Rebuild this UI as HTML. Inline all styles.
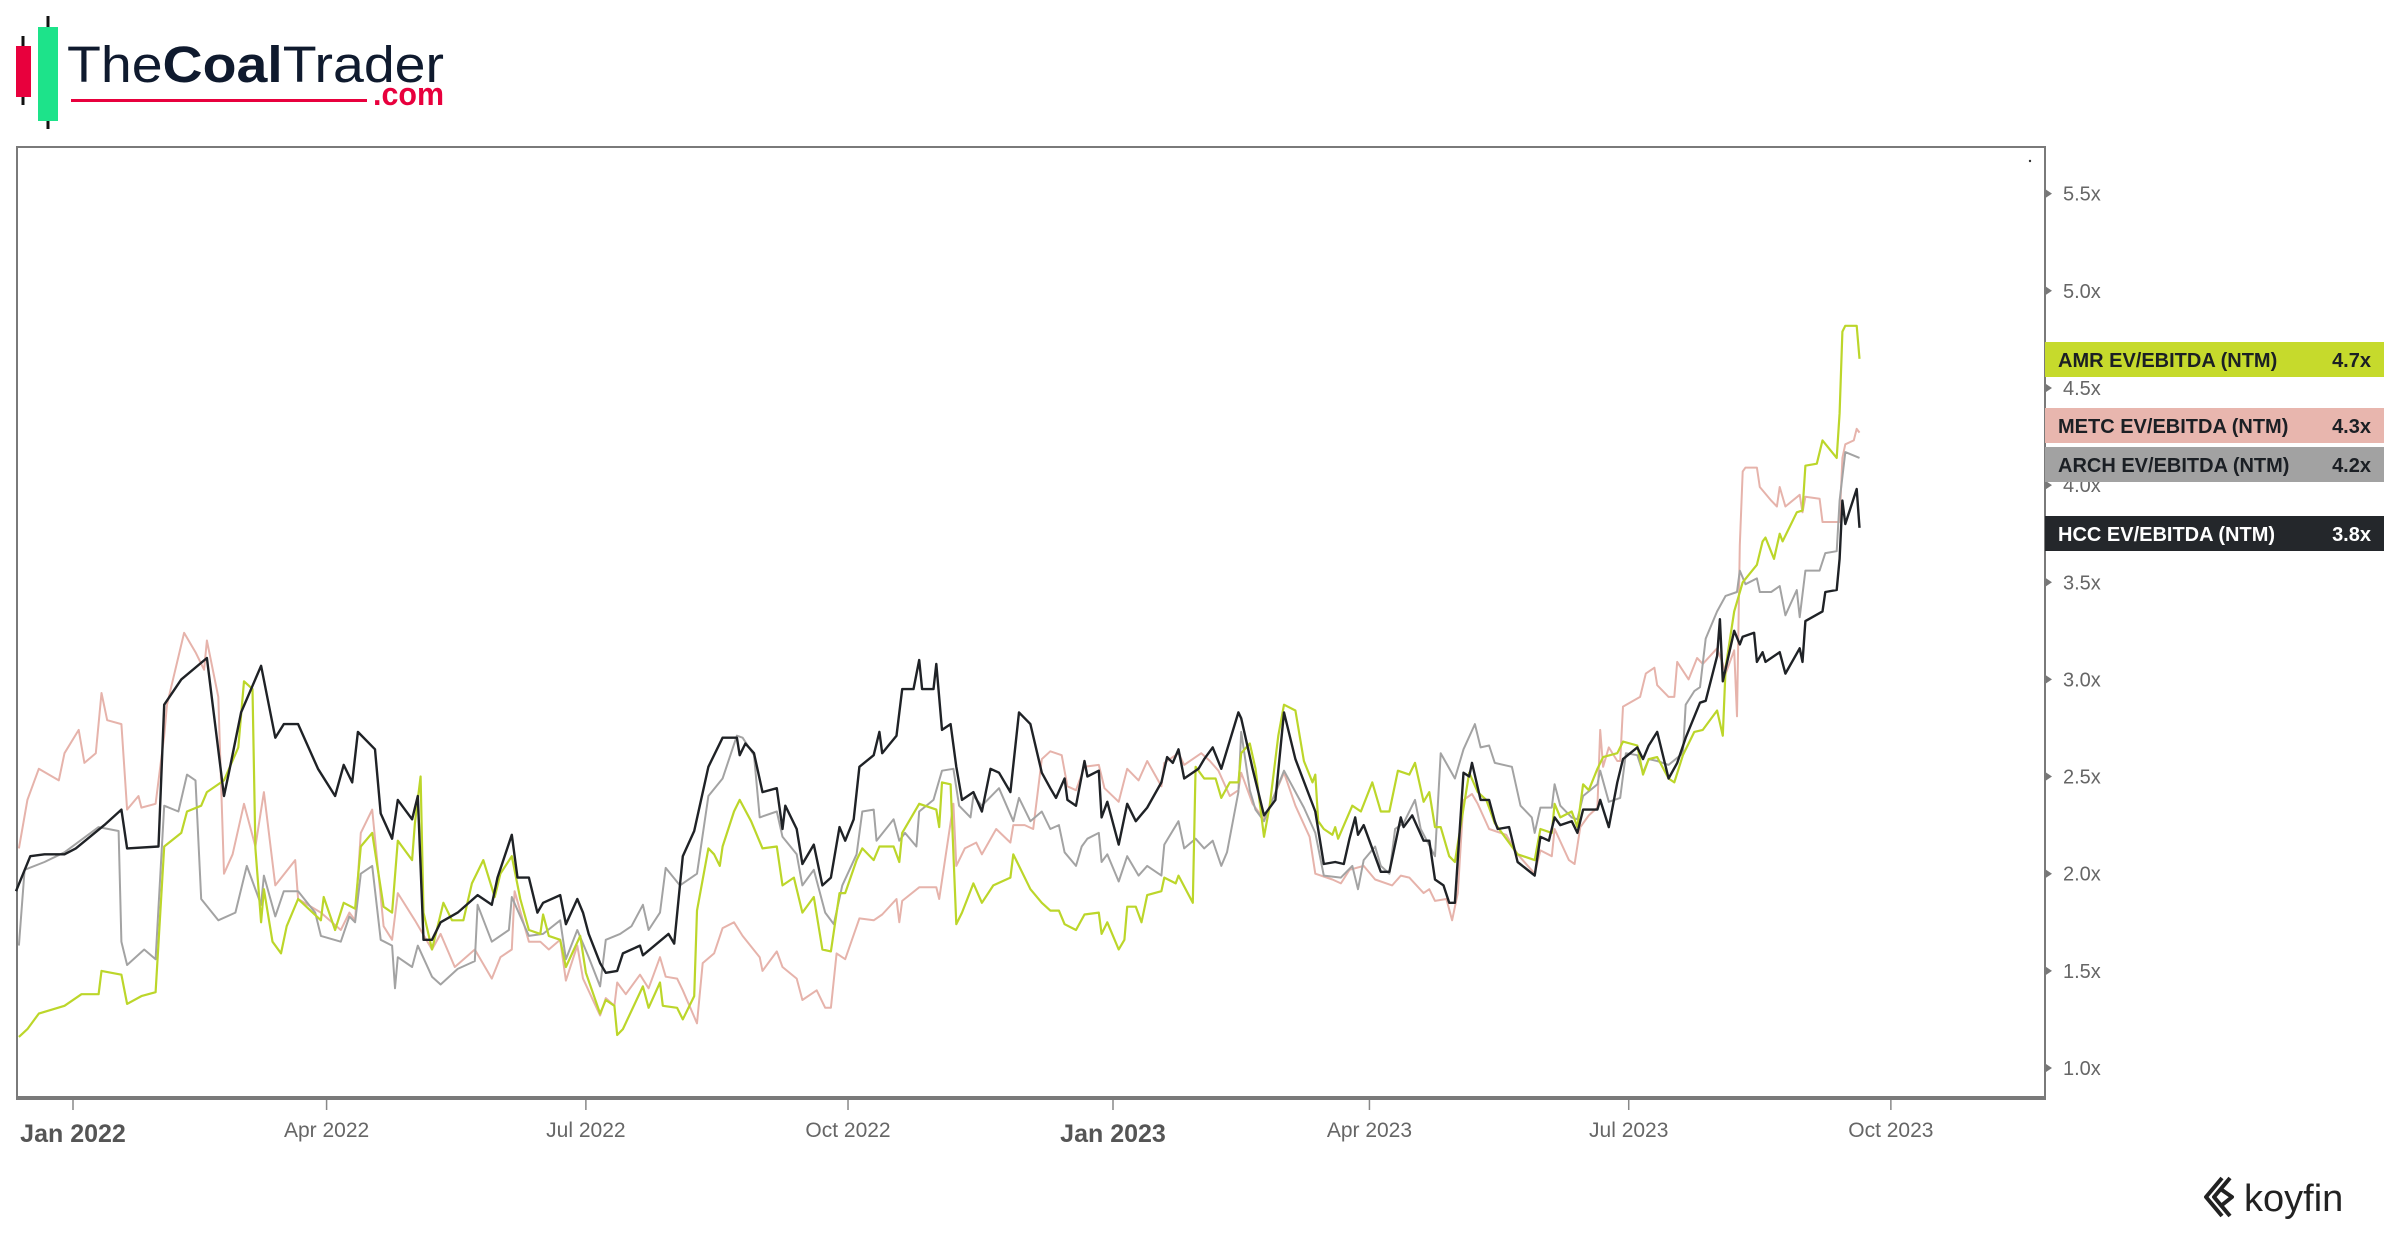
<!DOCTYPE html>
<html><head><meta charset="utf-8"><title>Coal EV/EBITDA</title>
<style>
html,body{margin:0;padding:0;background:#fff;}
body{width:2400px;height:1240px;overflow:hidden;font-family:"Liberation Sans",Arial,sans-serif;}
svg text{font-family:"Liberation Sans",Arial,sans-serif;}
</style></head>
<body>
<svg id="chart" width="2400" height="1240" viewBox="0 0 2400 1240" xmlns="http://www.w3.org/2000/svg">
  <g>
    <line x1="23" y1="36" x2="23" y2="105" stroke="#111" stroke-width="3"/>
    <rect x="16" y="46" width="15" height="51" fill="#e8003d"/>
    <line x1="48" y1="16" x2="48" y2="129" stroke="#111" stroke-width="3"/>
    <rect x="38" y="27" width="20" height="94" fill="#1de38a"/>
    <text x="67" y="82" font-size="51" fill="#0f1a2e" textLength="377" lengthAdjust="spacingAndGlyphs"><tspan>The</tspan><tspan font-weight="bold">Coal</tspan><tspan>Trader</tspan></text>
    <rect x="71" y="99" width="296" height="3" fill="#e8003d"/>
    <text x="373" y="105" font-size="32" font-weight="bold" fill="#e8003d" textLength="71" lengthAdjust="spacingAndGlyphs">.com</text>
  </g>
  <rect x="17" y="147" width="2028" height="951" fill="none" stroke="#7a7a7a" stroke-width="2"/>
  <line x1="16" y1="1098" x2="2046" y2="1098" stroke="#7a7a7a" stroke-width="4"/>
  <circle cx="2030" cy="161" r="1.2" fill="#333"/>
  <g id="yaxis"></g>
  <g id="xaxis"></g>
  <g id="series"></g>
  <g id="legend"></g>
  <g>
    <path d="M2222 1178 L2206 1197 L2222 1216 M2230 1178 L2214 1197 L2230 1216 M2222 1190 L2232 1197 L2222 1205" fill="none" stroke="#222" stroke-width="4" stroke-linejoin="round"/>
    <text x="2244" y="1211" font-size="38" fill="#222">koyfin</text>
  </g>
</svg>
<script>
// ---- data (days since 2022-01-01, EV/EBITDA multiples) ----
const yTicks = [1.0, 1.5, 2.0, 2.5, 3.0, 3.5, 4.0, 4.5, 5.0, 5.5];
const xTickDays = [0, 89, 180, 272, 365, 455, 546, 638];
const xTickLabels = ["Jan 2022","Apr 2022","Jul 2022","Oct 2022","Jan 2023","Apr 2023","Jul 2023","Oct 2023"];
const seriesNames = ["METC EV/EBITDA (NTM)","ARCH EV/EBITDA (NTM)","AMR EV/EBITDA (NTM)","HCC EV/EBITDA (NTM)"];
const lastValues = [4.3, 4.2, 4.7, 3.8];

const hccDays = [-20,-15,-10,-3,1,11,17,19,30,32,38,47,53,55,59,66,71,74,79,86,92,95,98,100,106,108,112,114,119,121,123,126,129,135,142,147,149,154,156,160,163,165,171,173,177,179,181,185,187,191,193,199,200,209,211,214,218,223,228,233,234,236,239,242,247,249,250,254,256,260,263,266,269,271,274,276,281,283,284,289,291,295,297,298,302,303,305,308,310,312,316,319,322,325,329,332,336,340,343,345,348,349,352,355,356,360,361,363,367,370,373,377,382,384,386,388,390,395,397,400,403,409,410,414,418,422,425,429,436,439,443,446,448,450,451,453,459,462,466,467,470,474,476,478,481,483,485,488,490,491,494,497,499,500,504,507,513,515,518,520,522,526,528,530,535,536,539,542,544,549,551,553,556,560,563,566,571,573,577,578,579,583,585,586,590,591,593,594,599,601,606,607,608,614,615,619,620,621,622,626,627];
const hccVals = [1.91,2.09,2.10,2.10,2.13,2.25,2.33,2.13,2.14,2.87,3.00,3.11,2.40,2.54,2.83,3.07,2.70,2.77,2.77,2.54,2.40,2.56,2.47,2.73,2.64,2.31,2.18,2.38,2.28,2.40,1.66,1.66,1.75,1.80,1.89,1.84,1.98,2.20,1.98,1.98,1.80,1.85,1.89,1.74,1.87,1.80,1.69,1.54,1.49,1.50,1.59,1.63,1.58,1.69,1.64,2.09,2.22,2.55,2.70,2.70,2.61,2.67,2.62,2.42,2.44,2.23,2.35,2.23,2.05,2.15,1.94,1.98,2.24,2.17,2.28,2.55,2.61,2.73,2.62,2.71,2.95,2.95,3.10,2.95,2.95,3.08,2.74,2.77,2.55,2.38,2.42,2.32,2.54,2.52,2.42,2.83,2.77,2.52,2.44,2.39,2.49,2.38,2.35,2.58,2.50,2.53,2.29,2.37,2.15,2.36,2.27,2.34,2.47,2.60,2.57,2.64,2.49,2.54,2.59,2.65,2.54,2.83,2.80,2.54,2.30,2.38,2.83,2.59,2.32,2.05,2.06,2.05,2.18,2.29,2.20,2.25,2.01,2.01,2.29,2.24,2.30,2.17,2.17,1.97,1.94,1.85,1.85,2.52,2.50,2.57,2.38,2.38,2.27,2.23,2.24,2.06,1.99,2.19,2.17,2.29,2.25,2.27,2.21,2.33,2.33,2.38,2.24,2.47,2.59,2.65,2.59,2.66,2.73,2.49,2.57,2.70,2.88,2.89,3.12,3.31,2.99,3.25,3.18,3.22,3.24,3.09,3.14,3.09,3.14,3.03,3.16,3.09,3.30,3.35,3.45,3.46,3.62,3.92,3.80,3.98,3.78];

const archDays = [-19,-17,-10,-3,9,16,17,19,25,29,32,37,40,43,45,51,57,61,66,67,71,74,79,85,87,94,97,99,101,105,108,112,113,114,119,121,126,129,135,141,142,147,153,154,160,165,171,173,177,181,185,187,192,196,200,202,206,208,213,219,223,228,233,235,239,241,247,249,254,256,260,264,267,270,275,277,281,282,288,290,292,296,297,302,305,309,311,315,316,319,325,330,332,336,340,343,346,348,352,354,356,360,361,363,367,370,374,377,382,383,388,390,394,397,400,403,405,409,410,413,415,418,425,432,436,439,445,449,451,453,457,459,462,464,467,471,473,478,480,485,488,492,494,497,499,505,508,512,513,515,519,520,522,526,528,530,535,536,539,543,545,549,551,553,556,560,565,566,569,571,573,577,580,584,585,587,591,592,596,599,601,605,606,608,613,615,619,620,622,627];
const archVals = [1.63,2.02,2.06,2.11,2.24,2.22,1.65,1.53,1.61,1.56,2.35,2.32,2.51,2.48,1.87,1.76,1.80,2.04,1.84,1.99,1.78,1.91,1.91,1.80,1.68,1.65,1.78,1.75,2.00,2.04,1.66,1.63,1.41,1.57,1.52,1.63,1.47,1.43,1.51,1.55,1.84,1.65,1.71,1.88,1.68,1.69,1.76,1.56,1.71,1.57,1.42,1.66,1.69,1.73,1.84,1.71,1.80,2.03,1.94,2.00,2.40,2.49,2.71,2.70,2.61,2.29,2.32,2.19,2.10,1.94,2.02,1.80,1.74,1.94,2.10,2.32,2.33,2.17,2.28,2.17,2.21,2.14,2.32,2.38,2.53,2.54,2.35,2.29,2.40,2.35,2.44,2.27,2.39,2.27,2.32,2.23,2.25,2.11,2.04,2.14,2.18,2.21,2.06,2.10,1.96,2.09,1.99,2.04,1.99,2.15,2.27,2.13,2.18,2.13,2.17,2.04,2.11,2.42,2.73,2.43,2.33,2.27,2.53,2.34,2.21,1.99,1.98,2.04,1.92,2.07,2.14,2.04,2.00,2.23,2.26,2.38,2.23,2.09,2.62,2.49,2.64,2.77,2.65,2.66,2.57,2.55,2.35,2.29,2.21,2.34,2.34,2.46,2.35,2.29,2.28,2.40,2.46,2.53,2.37,2.39,2.62,2.61,2.52,2.59,2.58,2.56,2.62,2.87,2.94,2.96,3.21,3.35,3.43,3.45,3.56,3.49,3.52,3.45,3.45,3.48,3.33,3.46,3.32,3.56,3.56,3.65,3.66,3.92,4.17,4.14];

const metcDays = [-19,-16,-12,-5,-3,2,4,8,10,12,17,19,23,24,29,32,33,39,43,46,47,51,53,56,60,64,67,71,78,79,87,94,97,99,101,105,109,112,114,120,126,129,134,141,147,150,154,155,160,164,167,171,173,177,179,185,187,190,191,194,199,202,206,208,212,214,219,221,225,228,232,235,241,242,247,249,254,256,261,264,266,268,271,276,281,284,289,290,291,297,303,304,309,310,313,317,319,324,329,330,334,337,340,343,347,349,352,355,360,362,367,370,374,377,382,383,388,390,396,399,402,406,409,410,414,418,425,429,434,436,442,445,448,453,457,463,466,469,474,476,478,482,484,486,488,491,493,497,503,507,513,515,519,520,525,527,529,532,535,536,537,539,542,543,544,550,552,555,556,560,562,563,567,570,572,577,579,580,583,584,585,586,587,591,592,596,598,599,601,606,607,608,613,614,620,621,622,625,626,627];
const metcVals = [2.13,2.38,2.54,2.48,2.62,2.74,2.57,2.62,2.93,2.79,2.77,2.33,2.40,2.34,2.36,2.71,2.87,3.24,3.14,3.05,3.20,2.91,2.00,2.10,2.36,2.14,2.42,1.94,2.07,1.87,1.80,1.71,1.80,1.76,2.21,2.33,1.73,1.66,1.90,1.76,1.61,1.69,1.52,1.61,1.46,1.57,1.61,1.91,1.65,1.65,1.61,1.66,1.45,1.63,1.46,1.27,1.36,1.32,1.44,1.38,1.48,1.41,1.57,1.47,1.46,1.40,1.23,1.54,1.59,1.72,1.75,1.68,1.57,1.50,1.60,1.52,1.46,1.35,1.40,1.31,1.31,1.59,1.56,1.77,1.76,1.79,1.87,1.75,1.86,1.93,1.93,1.87,2.36,2.04,2.13,2.16,2.10,2.23,2.16,2.25,2.25,2.23,2.59,2.63,2.61,2.45,2.43,2.55,2.56,2.44,2.37,2.54,2.48,2.58,2.45,2.57,2.62,2.56,2.62,2.58,2.53,2.40,2.43,2.52,2.36,2.28,2.52,2.35,2.19,2.00,1.97,1.95,2.02,2.04,1.97,1.94,1.99,1.98,1.90,1.92,1.86,1.87,1.76,1.90,2.38,2.41,2.36,2.23,2.20,2.10,2.00,2.12,2.09,2.23,2.07,2.05,2.24,2.30,2.34,2.74,2.55,2.65,2.58,2.58,2.86,2.91,3.03,3.06,2.97,2.91,2.91,3.09,3.00,3.11,3.08,3.16,3.08,3.03,3.15,2.81,3.69,4.07,4.09,4.09,3.99,3.92,3.89,3.99,3.89,3.95,3.86,3.94,3.93,3.81,3.81,4.14,4.21,4.23,4.29,4.27];

const amrDays = [-19,-16,-12,-3,3,9,10,17,19,24,29,32,38,40,45,47,53,58,60,63,64,66,67,70,73,75,79,87,88,92,95,99,101,105,109,112,114,119,120,122,123,126,130,133,137,140,144,148,150,154,157,160,164,165,167,171,173,178,180,185,187,190,191,193,200,202,206,207,212,214,218,219,223,225,227,228,232,234,238,242,247,249,253,256,260,263,266,269,271,275,277,281,283,288,290,291,297,303,304,305,308,310,312,316,319,323,329,330,336,340,343,346,348,352,355,360,361,363,367,369,370,373,375,377,382,383,387,388,393,394,397,401,403,406,409,410,413,415,418,420,423,425,429,432,435,436,437,439,442,443,444,449,452,456,459,462,465,469,471,474,476,478,480,483,485,490,493,496,499,507,513,515,519,520,522,526,528,530,532,535,537,542,544,549,551,553,556,560,562,565,569,572,577,579,580,583,586,591,593,594,597,599,600,605,607,608,612,614,619,620,621,622,626,627];
const amrVals = [1.16,1.20,1.28,1.32,1.38,1.38,1.50,1.48,1.33,1.37,1.39,2.14,2.21,2.32,2.35,2.42,2.48,2.65,2.99,2.95,2.13,1.75,1.92,1.65,1.59,1.73,1.87,1.76,1.88,1.71,1.85,1.82,2.14,2.21,1.83,1.80,2.17,2.07,2.26,2.50,1.80,1.61,1.85,1.76,1.76,1.95,2.07,1.88,2.00,2.09,1.87,1.71,1.69,1.79,1.68,1.66,1.52,1.68,1.49,1.28,1.35,1.32,1.17,1.20,1.42,1.31,1.44,1.32,1.31,1.25,1.37,1.81,2.13,2.10,2.04,2.14,2.32,2.38,2.27,2.13,2.14,1.94,1.98,1.80,1.88,1.61,1.60,1.90,1.90,2.07,2.13,2.07,2.14,2.14,2.06,2.21,2.36,2.33,2.24,2.47,2.46,1.74,1.80,1.95,1.85,1.94,1.98,2.10,1.92,1.85,1.81,1.81,1.74,1.71,1.79,1.80,1.69,1.75,1.61,1.66,1.83,1.83,1.75,1.89,1.91,1.98,1.95,1.99,1.85,2.55,2.49,2.49,2.39,2.47,2.47,2.62,2.67,2.54,2.19,2.35,2.71,2.87,2.84,2.58,2.47,2.51,2.27,2.23,2.20,2.24,2.18,2.35,2.32,2.47,2.32,2.32,2.53,2.51,2.57,2.37,2.42,2.24,2.24,2.09,2.06,2.52,2.42,2.38,2.26,2.10,2.07,2.23,2.21,2.36,2.29,2.32,2.24,2.46,2.43,2.54,2.60,2.62,2.68,2.66,2.51,2.59,2.60,2.49,2.47,2.61,2.73,2.74,2.84,2.71,3.06,3.35,3.50,3.59,3.71,3.73,3.62,3.75,3.71,3.86,3.87,4.10,4.11,4.23,4.14,4.37,4.79,4.82,4.82,4.65];

// ---- scales ----
const NS = "http://www.w3.org/2000/svg";
function xScale(d){ return 73 + d * (1040 / 365); }
function yScale(v){ return 1068 - (v - 1) * 194.3; }

const yAxis = document.getElementById('yaxis');
yTicks.forEach(function(t){
  const y = yScale(t);
  const tri = document.createElementNS(NS,'path');
  
  
  tri.setAttribute('d','M2046 '+(y-4)+' L2052 '+y+' L2046 '+(y+4)+' Z');
  tri.setAttribute('fill','#777');
  yAxis.appendChild(tri);
  const tx = document.createElementNS(NS,'text');
  
  
  tx.setAttribute('x',2063); tx.setAttribute('y',y+7);
  tx.setAttribute('font-size','20'); tx.setAttribute('fill','#666');
  tx.textContent = t.toFixed(1)+'x';
  yAxis.appendChild(tx);
});

const xAxis = document.getElementById('xaxis');
xTickDays.forEach(function(d,i){
  const x = xScale(d);
  const ln = document.createElementNS(NS,'line');
  
  
  ln.setAttribute('x1',x); ln.setAttribute('x2',x);
  ln.setAttribute('y1',1100); ln.setAttribute('y2',1110);
  ln.setAttribute('stroke','#888'); ln.setAttribute('stroke-width','1.5');
  xAxis.appendChild(ln);
  const lab = xTickLabels[i];
  const isJan = lab.indexOf('Jan') === 0;
  const tx = document.createElementNS(NS,'text');
  
  
  tx.setAttribute('x',x); tx.setAttribute('y', isJan ? 1142 : 1137);
  tx.setAttribute('text-anchor','middle');
  tx.setAttribute('font-size', isJan ? '25' : '21');
  if (isJan) tx.setAttribute('font-weight','bold');
  tx.setAttribute('fill', isJan ? '#555' : '#666');
  tx.textContent = lab;
  xAxis.appendChild(tx);
});

const seriesG = document.getElementById('series');
function drawLine(days, vals, color, width, name){
  let d = '';
  for (let i = 0; i < days.length; i++){
    d += (i ? 'L' : 'M') + xScale(days[i]).toFixed(1) + ' ' + yScale(vals[i]).toFixed(1);
  }
  const p = document.createElementNS(NS,'path');
  
  
  p.setAttribute('d', d);
  p.setAttribute('fill','none');
  p.setAttribute('stroke', color);
  p.setAttribute('stroke-width', width);
  p.setAttribute('stroke-linejoin','round');
  seriesG.appendChild(p);
}
drawLine(metcDays, metcVals, '#e6b3ab', 2, 'metc-line');
drawLine(archDays, archVals, '#a3a3a3', 2, 'arch-line');
drawLine(amrDays, amrVals, '#bcd62a', 2.2, 'amr-line');
drawLine(hccDays, hccVals, '#1f2226', 2.4, 'hcc-line');

// ---- legend ----
const legendOrder = [2, 0, 1, 3];
const legendTop = [342, 408, 447, 516];
const legendBg = ['#c6da2c','#e8b6ae','#a2a2a2','#24272b'];
const legendFg = ['#1b1f24','#1b1f24','#1b1f24','#ffffff'];
const legendG = document.getElementById('legend');
legendOrder.forEach(function(si, k){
  const top = legendTop[k];
  const r = document.createElementNS(NS,'rect');
  
  
  r.setAttribute('x',2045); r.setAttribute('y',top);
  r.setAttribute('width',339); r.setAttribute('height',35);
  r.setAttribute('fill',legendBg[k]);
  legendG.appendChild(r);
  const t1 = document.createElementNS(NS,'text');
  
  
  t1.setAttribute('x',2058); t1.setAttribute('y',top+25);
  t1.setAttribute('font-size','20'); t1.setAttribute('font-weight','bold');
  t1.setAttribute('fill',legendFg[k]);
  t1.textContent = seriesNames[si];
  legendG.appendChild(t1);
  const t2 = document.createElementNS(NS,'text');
  
  
  t2.setAttribute('x',2371); t2.setAttribute('y',top+25);
  t2.setAttribute('text-anchor','end');
  t2.setAttribute('font-size','20'); t2.setAttribute('font-weight','bold');
  t2.setAttribute('fill',legendFg[k]);
  t2.textContent = lastValues[si].toFixed(1)+'x';
  legendG.appendChild(t2);
});
</script>
</body></html>
